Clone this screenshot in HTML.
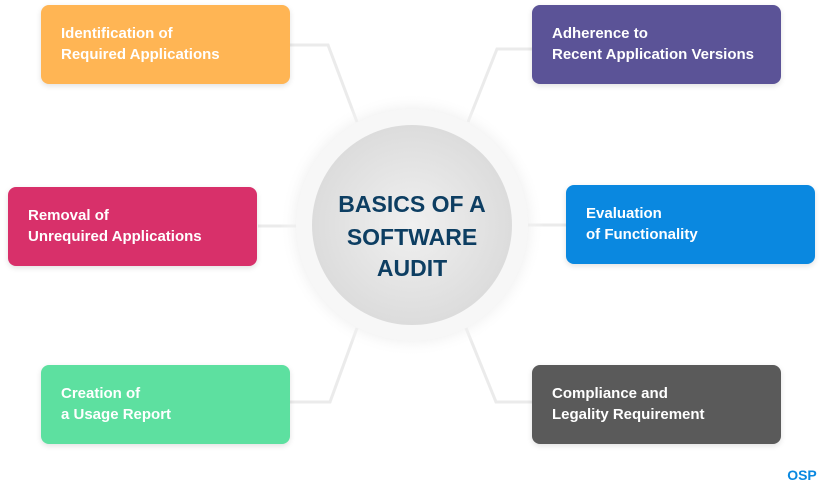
<!DOCTYPE html>
<html><head><style>
body{margin:0;width:824px;height:482px;background:#fff;position:relative;overflow:hidden;font-family:"Liberation Sans",Arial,sans-serif}
.b{position:absolute;width:249px;height:79px;border-radius:8px;color:#fff;font-weight:bold;font-size:15px;line-height:21px;box-sizing:border-box;padding:18px 0 0 20px;box-shadow:0 2px 6px rgba(0,0,0,.12)}
</style></head><body>
<svg width="824" height="482" style="position:absolute;left:0;top:0">
<g stroke="#ebebeb" stroke-width="3" fill="none">
<polyline points="290,45 328,45 357,122"/>
<polyline points="532,49 497,49 468,122"/>
<polyline points="258,226 298,226"/>
<polyline points="526,225 566,225"/>
<polyline points="290,402 330,402 357,328"/>
<polyline points="532,402 496,402 466,328"/>
</g>
<defs>
<radialGradient id="g" cx="50%" cy="50%" r="50%"><stop offset="0" stop-color="#f0f0f0"/><stop offset="1" stop-color="#dcdcdc"/></radialGradient>
<radialGradient id="s" cx="50%" cy="50%" r="50%"><stop offset="0.8" stop-color="#e6e6e6"/><stop offset="1" stop-color="#fff" stop-opacity="0"/></radialGradient>
</defs>
<circle cx="412" cy="225" r="132" fill="url(#s)"/>
<circle cx="412" cy="225" r="116" fill="#f7f7f7"/>
<circle cx="412" cy="225" r="100" fill="url(#g)"/>
<g font-family="Liberation Sans,sans-serif" font-weight="bold" font-size="23" fill="#0d3e62" text-anchor="middle">
<text x="412" y="212">BASICS OF A</text>
<text x="412" y="245">SOFTWARE</text>
<text x="412" y="276">AUDIT</text>
</g>
<text x="802" y="480" text-anchor="middle" font-family="Liberation Sans,sans-serif" font-weight="bold" font-size="14" fill="#0a88e0">OSP</text>
</svg>
<div class="b" style="left:41px;top:5px;background:#ffb554">Identification of<br>Required Applications</div>
<div class="b" style="left:532px;top:5px;background:#5b5397">Adherence to<br>Recent Application Versions</div>
<div class="b" style="left:8px;top:187px;background:#d8306a">Removal of<br>Unrequired Applications</div>
<div class="b" style="left:566px;top:185px;background:#0a88e0">Evaluation<br>of Functionality</div>
<div class="b" style="left:41px;top:365px;background:#5de0a0">Creation of<br>a Usage Report</div>
<div class="b" style="left:532px;top:365px;background:#5a5a5a">Compliance and<br>Legality Requirement</div>
</body></html>
